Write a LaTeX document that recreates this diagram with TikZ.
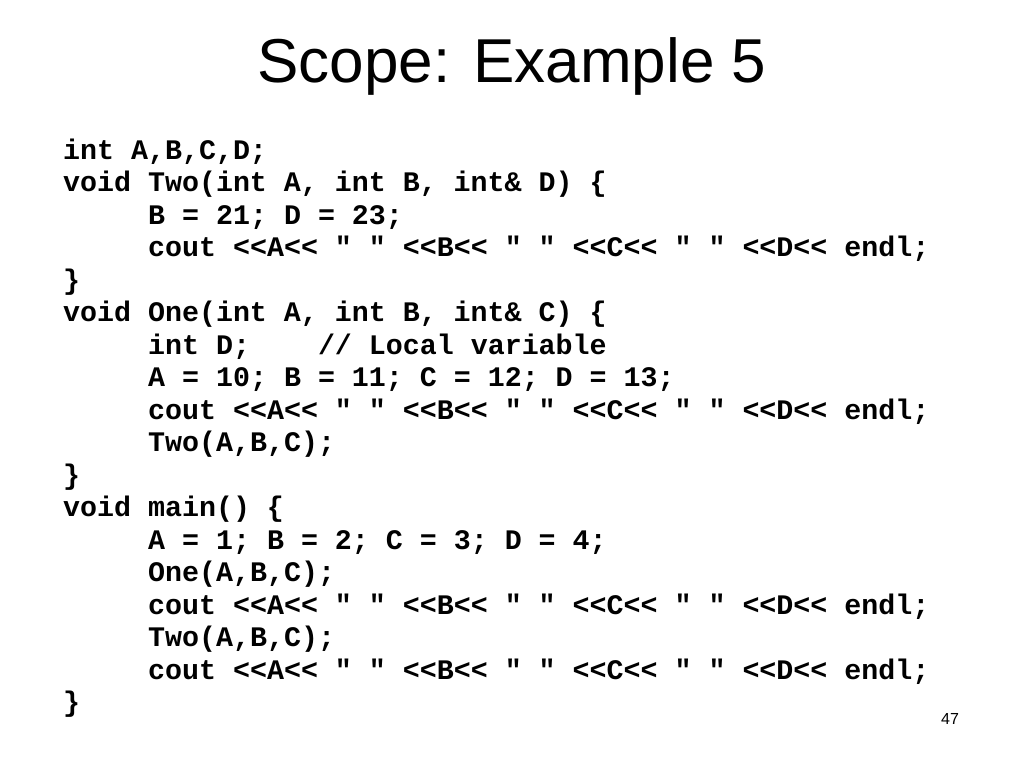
\documentclass[tikz,border=0pt]{standalone}
\usepackage{fontspec}
\setmainfont{Liberation Sans}
\newfontfamily\codefont{Liberation Mono}[Ligatures=NoCommon]
\begin{document}
\begin{tikzpicture}[x=1pt,y=-1pt,
  code/.style={anchor=base west,inner sep=0pt,font=\codefont\bfseries\fontsize{28.3}{30}\selectfont},
  title/.style={anchor=base,inner sep=0pt,font=\fontsize{62}{64}\selectfont},
  pnum/.style={anchor=base,inner sep=0pt,font=\fontsize{16}{18}\selectfont}]
\useasboundingbox (0,0) rectangle (1024,768);
\fill[white] (0,0) rectangle (1024,768);
\node[title] (t) at (512,82) {Scope: Example 5};
\def\L{63}\def\I{148}
\node[code] (l1) at (\L,159) {int A,B,C,D;};
\node[code] (l2) at (\L,191.5) {void Two(int A, int B, int\& D) \{};
\node[code] (l3) at (\I,224) {B = 21; D = 23;};
\node[code] (l4) at (\I,256.5) {cout <{}<A<{}< " " <{}<B<{}< " " <{}<C<{}< " " <{}<D<{}< endl;};
\node[code] (l5) at (\L,289) {\}};
\node[code] (l6) at (\L,321.5) {void One(int A, int B, int\& C) \{};
\node[code] (l7) at (\I,354) {int D;\phantom{xxxx}// Local variable};
\node[code] (l8) at (\I,386.5) {A = 10; B = 11; C = 12; D = 13;};
\node[code] (l9) at (\I,419) {cout <{}<A<{}< " " <{}<B<{}< " " <{}<C<{}< " " <{}<D<{}< endl;};
\node[code] (l10) at (\I,451.5) {Two(A,B,C);};
\node[code] (l11) at (\L,484) {\}};
\node[code] (l12) at (\L,516.5) {void main() \{};
\node[code] (l13) at (\I,549) {A = 1; B = 2; C = 3; D = 4;};
\node[code] (l14) at (\I,581.5) {One(A,B,C);};
\node[code] (l15) at (\I,614) {cout <{}<A<{}< " " <{}<B<{}< " " <{}<C<{}< " " <{}<D<{}< endl;};
\node[code] (l16) at (\I,646.5) {Two(A,B,C);};
\node[code] (l17) at (\I,679) {cout <{}<A<{}< " " <{}<B<{}< " " <{}<C<{}< " " <{}<D<{}< endl;};
\node[code] (l18) at (\L,711.5) {\}};
\node[pnum] (p) at (950,724) {47};
\end{tikzpicture}
\end{document}
